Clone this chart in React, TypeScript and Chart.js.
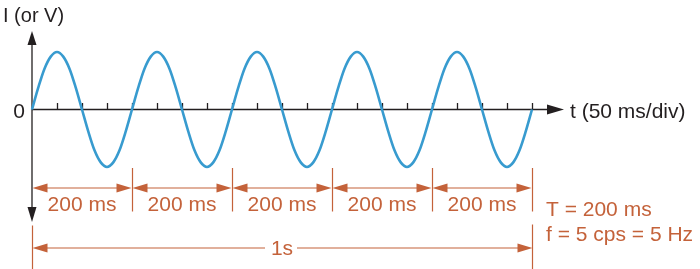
import React, { useEffect, useRef } from "react";
import { Chart, registerables } from "chart.js";

Chart.register(...registerables);

// ---- data ----
const timeMs = [
  0, 12.5, 25, 37.5, 50, 62.5, 75, 87.5, 100, 112.5, 125, 137.5, 150, 162.5, 175, 187.5,
  200, 212.5, 225, 237.5, 250, 262.5, 275, 287.5, 300, 312.5, 325, 337.5, 350, 362.5, 375, 387.5,
  400, 412.5, 425, 437.5, 450, 462.5, 475, 487.5, 500, 512.5, 525, 537.5, 550, 562.5, 575, 587.5,
  600, 612.5, 625, 637.5, 650, 662.5, 675, 687.5, 700, 712.5, 725, 737.5, 750, 762.5, 775, 787.5,
  800, 812.5, 825, 837.5, 850, 862.5, 875, 887.5, 900, 912.5, 925, 937.5, 950, 962.5, 975, 987.5,
  1000,
];
const signal = [
  0, 0.38, 0.71, 0.92, 1, 0.92, 0.71, 0.38, 0, -0.38, -0.71, -0.92, -1, -0.92, -0.71, -0.38,
  0, 0.38, 0.71, 0.92, 1, 0.92, 0.71, 0.38, 0, -0.38, -0.71, -0.92, -1, -0.92, -0.71, -0.38,
  0, 0.38, 0.71, 0.92, 1, 0.92, 0.71, 0.38, 0, -0.38, -0.71, -0.92, -1, -0.92, -0.71, -0.38,
  0, 0.38, 0.71, 0.92, 1, 0.92, 0.71, 0.38, 0, -0.38, -0.71, -0.92, -1, -0.92, -0.71, -0.38,
  0, 0.38, 0.71, 0.92, 1, 0.92, 0.71, 0.38, 0, -0.38, -0.71, -0.92, -1, -0.92, -0.71, -0.38,
  0,
];
const divisionTicks = [50, 100, 150, 200, 250, 300, 350, 400, 450, 500, 550, 600, 650, 700, 750, 800, 850, 900, 950, 1000];
const periodBounds = [0, 200, 400, 600, 800, 1000];
const periodLabels = ["200 ms", "200 ms", "200 ms", "200 ms", "200 ms"];
const yAxisTitle = "I (or V)";
const zeroLabel = "0";
const xAxisTitle = "t (50 ms/div)";
const totalLabel = "1s";
const infoLines = ["T = 200 ms", "f = 5 cps = 5 Hz"];

const BLUE = "rgb(56,155,207)";
const ORANGE = "rgb(196,98,58)";
const BLACK = "#231f20";
const FAMILY = '"Liberation Sans", Arial, Helvetica, sans-serif';

function arrow(ctx: CanvasRenderingContext2D, tx: number, ty: number, dx: number, dy: number, len: number, hw: number) {
  const bx = tx - dx * len;
  const by = ty - dy * len;
  const px = -dy;
  const py = dx;
  ctx.beginPath();
  ctx.moveTo(tx, ty);
  ctx.lineTo(bx + px * hw, by + py * hw);
  ctx.lineTo(bx - px * hw, by - py * hw);
  ctx.closePath();
  ctx.fill();
}

function seg(ctx: CanvasRenderingContext2D, x1: number, y1: number, x2: number, y2: number) {
  ctx.beginPath();
  ctx.moveTo(x1, y1);
  ctx.lineTo(x2, y2);
  ctx.stroke();
}

const overlay = {
  id: "overlay",
  beforeDatasetsDraw(chart: any) {
    const ctx: CanvasRenderingContext2D = chart.ctx;
    const xs = chart.scales.x;
    const ys = chart.scales.y;
    const x0 = xs.getPixelForValue(0);
    const y0 = ys.getPixelForValue(0);
    ctx.save();
    ctx.strokeStyle = BLACK;
    ctx.fillStyle = BLACK;
    ctx.lineWidth = 1.3;
    // horizontal axis
    const xTip = x0 + 532;
    seg(ctx, x0, y0, xTip - 10, y0);
    arrow(ctx, xTip, y0, 1, 0, 17, 5);
    // division ticks
    divisionTicks.forEach((t) => {
      const px = Math.round(xs.getPixelForValue(t)) + 0.5;
      seg(ctx, px, y0, px, y0 - 6.5);
    });
    // vertical axis
    const topTip = y0 - 78.5;
    const botTip = y0 + 112.5;
    seg(ctx, x0, topTip + 8, x0, botTip - 8);
    arrow(ctx, x0, topTip, 0, -1, 14, 4.5);
    arrow(ctx, x0, botTip, 0, 1, 15, 4.5);
    ctx.restore();
  },
  afterDraw(chart: any) {
    const ctx: CanvasRenderingContext2D = chart.ctx;
    const xs = chart.scales.x;
    const ys = chart.scales.y;
    const x0 = xs.getPixelForValue(0);
    const y0 = ys.getPixelForValue(0);
    ctx.save();
    // axis texts
    ctx.fillStyle = BLACK;
    ctx.textBaseline = "alphabetic";
    ctx.font = "20px " + FAMILY;
    ctx.textAlign = "left";
    ctx.fillText(yAxisTitle, 3, 22);
    ctx.font = "21px " + FAMILY;
    ctx.textAlign = "right";
    ctx.fillText(zeroLabel, x0 - 7, y0 + 8);
    ctx.textAlign = "left";
    ctx.fillText(xAxisTitle, x0 + 538, y0 + 8);

    // period dimensions
    ctx.strokeStyle = ORANGE;
    ctx.fillStyle = ORANGE;
    ctx.lineWidth = 1.2;
    const dimY = y0 + 78.5;
    periodBounds.forEach((t, i) => {
      const px = Math.round(xs.getPixelForValue(t)) + 0.5;
      if (i > 0) seg(ctx, px, y0 + 58.5, px, y0 + 102);
    });
    for (let i = 0; i < periodLabels.length; i++) {
      const a = xs.getPixelForValue(periodBounds[i]) + 0.5;
      const b = xs.getPixelForValue(periodBounds[i + 1]) - 0.5;
      seg(ctx, a + 8, dimY, b - 8, dimY);
      arrow(ctx, a, dimY, -1, 0, 15, 4.5);
      arrow(ctx, b, dimY, 1, 0, 15, 4.5);
      ctx.textAlign = "center";
      ctx.fillText(periodLabels[i], (a + b) / 2, y0 + 101.5);
    }

    // total dimension
    const xEnd = xs.getPixelForValue(periodBounds[periodBounds.length - 1]);
    const totY = y0 + 138.5;
    seg(ctx, Math.round(x0) + 0.5, y0 + 116, Math.round(x0) + 0.5, chart.height);
    seg(ctx, Math.round(xEnd) + 0.5, y0 + 115, Math.round(xEnd) + 0.5, chart.height);
    const mid = (x0 + xEnd) / 2;
    seg(ctx, x0 + 8, totY, mid - 17, totY);
    seg(ctx, mid + 15, totY, xEnd - 8, totY);
    arrow(ctx, x0 + 0.5, totY, -1, 0, 15, 4.5);
    arrow(ctx, xEnd + 0.5, totY, 1, 0, 15, 4.5);
    ctx.textAlign = "center";
    ctx.fillText(totalLabel, mid, totY + 7);

    // info lines
    ctx.textAlign = "left";
    ctx.fillText(infoLines[0], xEnd + 14, y0 + 106.5);
    ctx.fillText(infoLines[1], xEnd + 14, y0 + 131.5);
    ctx.restore();
  },
};

export default function App() {
  const ref = useRef<HTMLCanvasElement | null>(null);
  useEffect(() => {
    if (!ref.current) return;
    const chart = new Chart(ref.current, {
      type: "line",
      data: {
        datasets: [
          {
            data: timeMs.map((t, i) => ({ x: t, y: signal[i] })),
            borderColor: BLUE,
            borderWidth: 2.6,
            pointRadius: 0,
            cubicInterpolationMode: "monotone",
            fill: false,
            clip: false as any,
          },
        ],
      },
      options: {
        animation: false,
        responsive: false,
        devicePixelRatio: 1,
        layout: { padding: { left: 32, right: 168, top: 52, bottom: 102 } },
        plugins: { legend: { display: false }, tooltip: { enabled: false }, title: { display: false } },
        events: [],
        scales: {
          x: { type: "linear", min: 0, max: 1000, display: false },
          y: { type: "linear", min: -1, max: 1, display: false },
        },
      },
      plugins: [overlay],
    });
    return () => chart.destroy();
  }, []);
  return (
    <div style={{ position: "absolute", left: 0, top: 0, width: 700, height: 269, background: "#fff" }}>
      <canvas ref={ref} width={700} height={269} style={{ width: 700, height: 269, display: "block" }} />
    </div>
  );
}
